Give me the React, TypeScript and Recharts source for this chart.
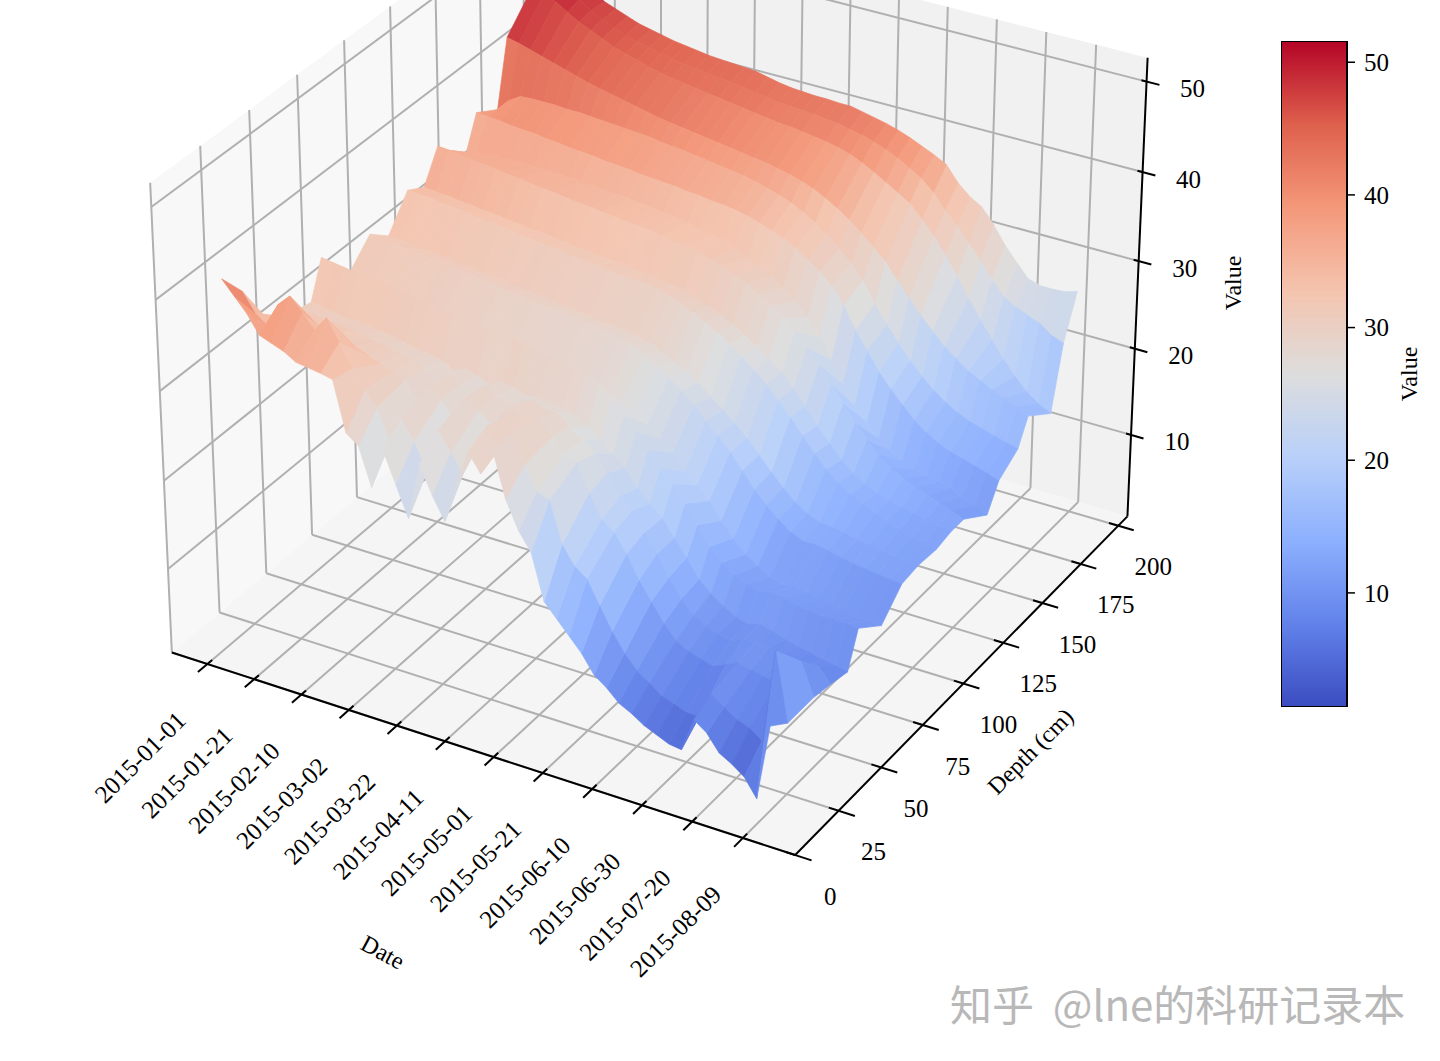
import React from 'react';
import { ScatterChart, Scatter, XAxis, YAxis, BarChart, Bar, Label } from 'recharts';

const FONT = '"Liberation Serif", "Times New Roman", serif';

// ---------- categories / ticks ----------
const dateTickLabels = ['2015-01-01','2015-01-21','2015-02-10','2015-03-02','2015-03-22','2015-04-11','2015-05-01','2015-05-21','2015-06-10','2015-06-30','2015-07-20','2015-08-09'];
const dateTickDays = [0,20,40,60,80,100,120,140,160,180,200,220];
const depthTicks = [0,25,50,75,100,125,150,175,200];
const valueTicks = [10,20,30,40,50];
const columnDays = [0,5,10,15,20,25,30,35,40,45,50,55,60,65,70,75,80,85,90,95,100,105,110,115,120,125,130,135,140,145,150,155,160,165,170,175,180,185,190,195,200,205,210,215,220];
const rowDepths = [15,25,40,50,60,66,80,92,102,113,122,130,145,152,164,170,185,192,200];

// ---------- series values: one list per depth row, one value per column day ----------
const d15 = [41,39.5,38,36,35.5, 35,34.2,34,33.8,33.5, 28,27,22.8,27.4,24, 20.6,27,24,21.5,26, 30,28,31,26,23, 21,16,14.5,13,11.5, 9.5,8.5,7.2,6.5,5.6, 5,4.4,4.2,8,7, 5.2,4.4,3.4,1.4,10];
const d25 = [38,36,35,37.7,39, 37.5,36,37.8,35.5,33, 31,29.5,26,29,27, 24,29,27,25,28, 31,29,31,28,25.5, 25,20.5,18.5,17.5,15, 12.5,10.5,9,8,7, 6.5,6,6,9,8, 7,6.5,5.5,16,8.4];
const d40 = [31.7,33,34,32.5,33, 32.5,32,32,31.5,31, 30.5,30,28,30,29, 27,30,29,28,29.5, 30,29.5,30,28.5,27, 26.5,23.5,21,20,18, 15.5,13.5,11.5,10,9.2, 8.8,8.4,9,9.7,9.3, 9,8.8,8.2,12,8.4];
const d50 = [31.5,32,32,31.6,31.8, 31.5,31.2,31,30.8,30.4, 30,29.6,28.6,29.6,29, 28,29.6,29,28.4,29, 29.5,29,29,27.8,26.8, 25.8,24,21.8,20.6,18.6, 16.6,14.4,12.4,11,10.2, 9.8,9.4,10,10.2,9.8, 9.4,9.2,9,9.6,8];
const d60 = [31,30.8,30.6,30.3,30.5, 30.2,30,29.8,29.5,29.2, 29,28.7,28,28.6,28.2, 27.6,28.4,28,27.6,27.8, 27.5,27.4,27,26,25, 24,22.8,21,19.6,18.4, 16.6,14.8,12.8,11.6,10.6, 9.8,9.4,9.8,9.5,9, 8.6,8.4,8,7.8,7.5];
const d66 = [35,34.8,34.6,34.3,34.4, 34.2,34,33.7,33.4,33.2, 33,32.8,32.3,32.6,32.2, 32,32.2,31.9,31.5,31.3, 31,30.8,30.3,29.4,28.4, 27.2,25.8,24.2,22.6,21.2, 19.4,17.4,15.4,14,13, 12.4,12,12.4,12.2,11.8, 11.6,11.4,11.4,11.4,11.3];
const d80 = [30.8,30.7,30.5,30.2,30.2, 30,29.8,29.6,29.4,29.2, 29,28.8,28.5,28.4,28.2, 28,28,27.8,27.5,27.4, 27.2,27,26.6,25.6,24.8, 23.8,22.6,21.4,19.8,18.6, 17.2,15.4,13.8,12.4,11.4, 10.6,10.2,10.4,10.2,9.9, 9.7,9.5,9.2,9,9];
const d92 = [33.4,33.3,33.1,32.9,32.8, 32.6,32.4,32.3,32.1,32, 31.8,31.6,31.4,31.2,31, 30.9,30.8,30.6,30.4,30.2, 30,29.8,29.3,28.6,27.8, 26.9,25.9,24.7,23.3,22, 20.6,18.9,17.2,15.8,14.6, 13.6,13,13,12.8,12.4, 12.2,12,11.8,11.6,11.5];
const d102 = [31.6,31.5,31.4,31.2,31.1, 31,30.8,30.7,30.5,30.4, 30.2,30,29.9,29.7,29.5, 29.3,29.2,29,28.8,28.7, 28.5,28.3,27.9,27.3,26.6, 25.9,25,23.9,22.8,21.7, 20.4,18.9,17.4,16,14.8, 13.9,13.3,13.2,13,12.6, 12.4,12.2,12,11.9,11.8];
const d113 = [35,34.9,34.8,34.6,34.5, 34.3,34.1,34,33.8,33.6, 33.4,33.3,33.1,33,32.8, 32.6,32.5,32.3,32.2,32.1, 32,31.8,31.4,30.9,30.3, 29.6,28.8,27.9,26.9,25.8, 24.6,23.2,21.7,20,18.4, 17,15.8,15,14.3,13.6, 13.1,12.6,12.2,11.9,11.6];
const d122 = [33.9,33.8,33.7,33.5,33.4, 33.2,33.1,32.9,32.8,32.6, 32.5,32.3,32.2,32,31.9, 31.7,31.6,31.5,31.3,31.2, 31,30.8,30.5,30,29.5, 28.9,28.2,27.4,26.5,25.5, 24.4,23,21.4,19.6,18, 16.5,15.4,14.6,14,13.5, 13.1,12.8,12.5,12.2,12];
const d130 = [37.3,37.2,37,36.8,36.7, 36.5,36.3,36.2,36,35.8, 35.7,35.5,35.3,35.2,35, 34.9,34.7,34.6,34.4,34.2, 34,33.8,33.5,33.1,32.7, 32.1,31.5,30.7,29.8,28.8, 27.7,26.3,24.8,23,21.2, 19.4,17.8,16.4,15.4,14.6, 14,13.5,13,12.5,12];
const d145 = [33.6,34.5,34.8,34.9,34.9, 34.9,34.8,34.8,34.7,34.7, 34.6,34.5,34.4,34.3,34.2, 34,33.9,33.7,33.5,33.3, 33,32.8,32.4,31.8,31.2, 30.6,29.8,28.9,27.8,26.4, 24.6,22.4,20,18,16.5, 15,14,13.2,12.6,12.3, 12,11.8,11,10.5,9.8];
const d152 = [37.7,37.6,37.5,37.3,37.2, 37.1,36.9,36.8,36.6,36.5, 36.4,36.2,36.1,36,35.8, 35.7,35.6,35.5,35.3,35.2, 35,34.9,34.7,34.4,34, 33.5,33,32.3,31.4,30.4, 29.2,27.4,25,23,21, 19.4,18,16.6,15.6,14.8, 14.2,13.8,13.4,13,12.5];
const d164 = [36.2,37.6,38.4,38.5,38.5, 38.5,38.4,38.4,38.3,38.2, 38.1,38,37.9,37.8,37.6, 37.4,37.3,37.1,36.9,36.7, 36.5,36.3,36,35.6,35.2, 34.7,34,33.2,32.2,31, 29.8,28.2,26,24,22.2, 20.6,19.2,18,17,16.2, 15.6,15.2,14.8,14.4,14.1];
const d170 = [43.5,43.2,42.8,42.4,42, 41.6,41.2,40.8,40.5,40.2, 39.9,39.6,39.3,39,38.8, 38.6,38.4,38.2,38,37.8, 37.6,37.4,37.2,36.9,36.6, 36.2,35.7,35,34.2,33.3, 32.2,31,29.8,28,26.4, 24.8,23.4,22,21,20, 19.3,18.6,18,17.4,16.8];
const d185 = [47,46.6,46,45.2,44.4, 43.8,43.2,42.6,42.2,41.8, 41.4,41.1,40.8,40.6,40.4, 40.2,40,39.8,39.6,39.4, 39.2,39,38.9,38.7,38.5, 38.3,38,37.6,37,36.3, 35.5,34.7,33.9,32.5,31, 29.2,27.2,25,23,21, 19.2,17.6,16.2,15.2,14.5];
const d192 = [47.6,47,46.5,45.5,44.6, 44,43.4,42.9,42.5,42.2, 41.9,41.6,41.4,41.2,41, 40.9,40.7,40.5,40.3,40.1, 39.9,39.8,39.7,39.6,39.4, 39.3,39,38.7,38.3,37.8, 37.2,36.4,35.6,34.4,32.8, 31.4,29.8,28.2,26.4,24.8, 24,23.5,23,22,21.5];
const d200 = [48,47,46.5,45.5,44.5, 44,43.5,43,42.7,42.4, 42.1,41.9,41.7,41.5,41.4, 41.3,41.2,41.1,40.8,40.5, 40.3,40.2,40.1,40.1,40, 40,39.7,39.4,39.1,38.7, 38.2,37.6,37,36.3,34.6, 33.4,32.6,31,29,27.4, 25.9,25.5,25.5,25.6,26];
const surfaceRows = [d15,d25,d40,d50,d60,d66,d80,d92,d102,d113,d122,d130,d145,d152,d164,d170,d185,d192,d200];

// ---------- colormap (coolwarm) ----------
const coolwarm = [[59,76,192],[98,130,234],[141,176,254],[184,208,249],[221,221,221],[244,196,174],[244,152,122],[222,96,77],[180,4,38]];
const COLOR_MIN = 1.4;
const COLOR_MAX = 51.6;
const warmZ = [26, 34, 40, 47.5];
const warmF = [0.49, 0.635, 0.83, 0.98];
const cmapAt = (f: number): number[] => {
  const p = Math.max(0, Math.min(0.9999, f)) * (coolwarm.length - 1);
  const i = Math.floor(p);
  const k = p - i;
  return coolwarm[i].map((v, j) => v + (coolwarm[i + 1][j] - v) * k);
};
const css = (c: number[]) => `rgb(${c.map((v) => Math.round(v)).join(',')})`;
const toFraction = (z: number) => {
  if (z <= warmZ[0]) return (z - COLOR_MIN) / (COLOR_MAX - COLOR_MIN);
  for (let i = 0; i + 1 < warmZ.length; i++) {
    if (z <= warmZ[i + 1]) return warmF[i] + ((z - warmZ[i]) * (warmF[i + 1] - warmF[i])) / (warmZ[i + 1] - warmZ[i]);
  }
  return warmF[warmF.length - 1];
};
const faceColor = (z: number) => css(cmapAt(toFraction(z)).map((v) => v * 0.97 + 255 * 0.03));

// ---------- 3D camera (elevation 30, azimuth -60, perspective) ----------
const T_RANGE = [-15.3, 240.5];
const D_RANGE = [0, 206.2];
const Z_RANGE = [0.4, 52.6];
const BOX = [1.1429, 1.1429, 0.8571];
const camera = (a: number, b: number, c: number) => {
  const X = (a - 0.5) * BOX[0];
  const Y = (b - 0.5) * BOX[1];
  const Z = (c - 0.5) * BOX[2];
  const u = 0.866 * X + 0.5 * Y;
  const v = -0.25 * X + 0.433 * Y + 0.866 * Z;
  const n = 0.433 * X - 0.75 * Y + 0.5 * Z;
  const f = 10 / (10 - n);
  return { px: u * f, py: v * f, n };
};
const nt = (t: number) => (t - T_RANGE[0]) / (T_RANGE[1] - T_RANGE[0]);
const nd = (d: number) => (d - D_RANGE[0]) / (D_RANGE[1] - D_RANGE[0]);
const nz = (z: number) => (z - Z_RANGE[0]) / (Z_RANGE[1] - Z_RANGE[0]);
const project = (t: number, d: number, z: number) => camera(nt(t), nd(d), nz(z));

// visible window of the camera plane, matches the 1440x1061 picture
const X_DOMAIN: [number, number] = [-1.053, 1.251];
const Y_DOMAIN: [number, number] = [-1.1278, 0.5698];

// ---------- scene ----------
const surfaceVertices = surfaceRows.flatMap((row, r) => row.map((z, c) => project(columnDays[c], rowDepths[r], z)));
const nc = columnDays.length;
type Cell = { ids: number[]; color: string; n: number };
const cells: Cell[] = [];
for (let r = 0; r + 1 < surfaceRows.length; r++) {
  for (let c = 0; c + 1 < nc; c++) {
    const ids = [r * nc + c, r * nc + c + 1, (r + 1) * nc + c + 1, (r + 1) * nc + c];
    const zs = [surfaceRows[r][c], surfaceRows[r][c + 1], surfaceRows[r + 1][c + 1], surfaceRows[r + 1][c]];
    cells.push({
      ids,
      color: faceColor(zs.reduce((s, v) => s + v, 0) / 4),
      n: ids.reduce((s, i) => s + surfaceVertices[i].n, 0) / 4,
    });
  }
}
cells.sort((p, q) => p.n - q.n);

const panePoints = [
  [camera(0,0,0),camera(0,1,0),camera(0,1,1),camera(0,0,1)],
  [camera(0,1,0),camera(1,1,0),camera(1,1,1),camera(0,1,1)],
  [camera(0,0,0),camera(1,0,0),camera(1,1,0),camera(0,1,0)],
].flat();
const paneColors = ['#f8f8f8', '#f1f1f1', '#f5f5f5'];

const gridPoints = [
  ...dateTickDays.flatMap((t) => [camera(nt(t),0,0),camera(nt(t),1,0),camera(nt(t),1,0),camera(nt(t),1,1)]),
  ...depthTicks.flatMap((d) => [camera(1,nd(d),0),camera(0,nd(d),0),camera(0,nd(d),0),camera(0,nd(d),1)]),
  ...valueTicks.flatMap((z) => [camera(0,0,nz(z)),camera(0,1,nz(z)),camera(0,1,nz(z)),camera(1,1,nz(z))]),
];
const axisPoints = [
  camera(0,0,0),camera(1,0,0),
  camera(1,0,0),camera(1,1,0),
  camera(1,1,0),camera(1,1,1),
  ...dateTickDays.flatMap((t) => [camera(nt(t),-0.024,0),camera(nt(t),0.012,0)]),
  ...depthTicks.flatMap((d) => [camera(0.985,nd(d),0),camera(1.025,nd(d),0)]),
  ...valueTicks.flatMap((z) => [camera(0.992,1,nz(z)),camera(1.02,1,nz(z))]),
];

const dateLabelPoints = dateTickLabels.map((label, i) => ({ ...camera(nt(dateTickDays[i]),0,0), label }));
const depthLabelPoints = depthTicks.map((d) => ({ ...camera(1,nd(d),0), label: String(d) }));
const valueLabelPoints = valueTicks.map((z) => ({ ...camera(1,1,nz(z)), label: String(z) }));
const dateTitlePoint = [{ ...camera(0.5,0,0), label: 'Date' }];
const depthTitlePoint = [{ ...camera(1,0.5,0), label: 'Depth (cm)' }];
const valueTitlePoint = [{ ...camera(1,1,0.5), label: 'Value' }];

// ---------- renderers ----------
const NoMark = () => <g />;
const renderSurface = (p: any) => (
  <g>
    {cells.map((cell, i) => (
      <polygon
        key={i}
        points={cell.ids.map((id) => `${p.points[id].x},${p.points[id].y}`).join(' ')}
        fill={cell.color}
        stroke={cell.color}
        strokeWidth={0.7}
        strokeLinejoin="round"
      />
    ))}
  </g>
);
const renderPanes = (p: any) => (
  <g>
    {paneColors.map((fill, i) => (
      <polygon key={i} fill={fill} stroke="none" points={p.points.slice(i * 4, i * 4 + 4).map((q: any) => `${q.x},${q.y}`).join(' ')} />
    ))}
  </g>
);
const renderSegments = (stroke: string, width: number) => (p: any) => {
  const out: React.ReactElement[] = [];
  for (let i = 0; i + 1 < p.points.length; i += 2) {
    const a = p.points[i];
    const b = p.points[i + 1];
    out.push(<line key={i} x1={a.x} y1={a.y} x2={b.x} y2={b.y} stroke={stroke} strokeWidth={width} />);
  }
  return <g>{out}</g>;
};
const textMark = (dx: number, dy: number, rotate: number, anchor: string, size: number) => (p: any) => (
  <text
    transform={`translate(${p.cx + dx},${p.cy + dy}) rotate(${rotate})`}
    textAnchor={anchor}
    dominantBaseline="central"
    fontFamily={FONT}
    fontSize={size}
    fill="#000"
  >
    {p.payload.label}
  </text>
);

const colorbarData = [{ name: 'Value', v: COLOR_MAX }];

export default function App() {
  return (
    <div style={{ position: 'absolute', left: 0, top: 0, width: 1440, height: 1061, background: '#fff', overflow: 'hidden' }}>
      <div style={{ position: 'absolute', left: 0, top: 0 }}>
        <ScatterChart width={1440} height={1061} margin={{ top: 0, right: 0, bottom: 0, left: 0 }}>
          <XAxis type="number" dataKey="px" domain={X_DOMAIN} allowDataOverflow hide />
          <YAxis type="number" dataKey="py" domain={Y_DOMAIN} allowDataOverflow hide />
          <Scatter data={panePoints} shape={NoMark} line={renderPanes} isAnimationActive={false} />
          <Scatter data={gridPoints} shape={NoMark} line={renderSegments('#b0b0b0', 2)} isAnimationActive={false} />
          <Scatter data={axisPoints} shape={NoMark} line={renderSegments('#000', 2)} isAnimationActive={false} />
          <Scatter data={surfaceVertices} shape={NoMark} line={renderSurface} isAnimationActive={false} />
          <Scatter data={dateLabelPoints} shape={textMark(-26, 52, -45, 'end', 25)} isAnimationActive={false} />
          <Scatter data={depthLabelPoints} shape={textMark(35, 41, 0, 'middle', 25)} isAnimationActive={false} />
          <Scatter data={valueLabelPoints} shape={textMark(46, 7, 0, 'middle', 25)} isAnimationActive={false} />
          <Scatter data={dateTitlePoint} shape={textMark(-93, 201, 28, 'middle', 24)} isAnimationActive={false} />
          <Scatter data={depthTitlePoint} shape={textMark(62, 73, -45, 'middle', 24)} isAnimationActive={false} />
          <Scatter data={valueTitlePoint} shape={textMark(96, -9, -90, 'middle', 24)} isAnimationActive={false} />
        </ScatterChart>
      </div>
      <div style={{ position: 'absolute', left: 1281, top: 0 }}>
        <BarChart width={159} height={1061} data={colorbarData} margin={{ top: 41, right: 0, bottom: 354, left: 0 }} barCategoryGap={0}>
          <defs>
            <linearGradient id="cbar" x1="0" y1="1" x2="0" y2="0">
              {coolwarm.map((c, i) => (
                <stop key={i} offset={i / (coolwarm.length - 1)} stopColor={css(c)} />
              ))}
            </linearGradient>
          </defs>
          <XAxis dataKey="name" hide />
          <YAxis
            orientation="right"
            width={93}
            domain={[COLOR_MIN, COLOR_MAX]}
            allowDataOverflow
            ticks={valueTicks}
            axisLine={false}
            tickSize={8}
            tickMargin={9}
            tickLine={{ stroke: '#000', strokeWidth: 1.5 }}
            tick={{ fill: '#000', fontFamily: FONT, fontSize: 25 }}
          >
            <Label value="Value" angle={-90} position="insideRight" offset={32} style={{ fontFamily: FONT, fontSize: 24, fill: '#000', textAnchor: 'middle' }} />
          </YAxis>
          <Bar dataKey="v" fill="url(#cbar)" stroke="#000" strokeWidth={2} isAnimationActive={false} />
        </BarChart>
      </div>
      <div style={{ position: 'absolute', left: 950, top: 972, fontFamily: '"Noto Sans CJK SC", sans-serif', fontSize: 42, color: '#b8b8b8', whiteSpace: 'pre' }}>
        {'知乎  @lne的科研记录本'}
      </div>
    </div>
  );
}
